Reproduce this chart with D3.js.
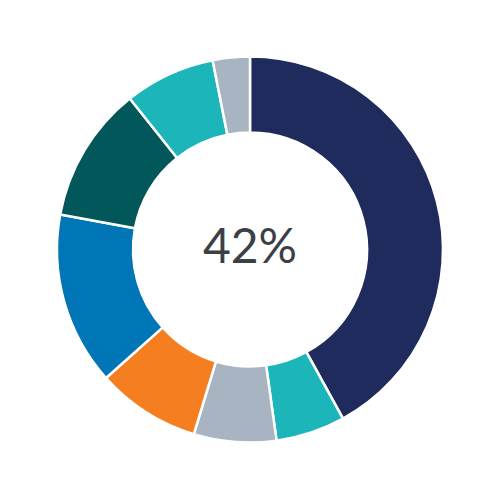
<!DOCTYPE html>
<html>
<head>
<meta charset="utf-8">
<script src="https://cdn.jsdelivr.net/npm/d3@7"></script>
<style>
html,body{margin:0;padding:0;background:#fff;}
svg{display:block;}
</style>
</head>
<body>
<svg id="chart" width="500" height="500"></svg>
<script>
const categories = ["A","B","C","D","E","F","G","H"];
const values = [42, 5.8, 6.9, 8.7, 14.5, 11.4, 7.6, 3.1];
const colors = ["#1e2b5c","#1cb5b9","#a9b4c2","#f47e20","#0076b6","#02575a","#1cb5b9","#a9b4c2"];
const centerLabel = "42%";

const svg = d3.select("#chart");
const cx = 250, cy = 249.5, outerR = 193, innerR = 117;
const g = svg.append("g").attr("transform", `translate(${cx},${cy})`);

const pie = d3.pie().value(d => d.v).sort(null);
const arc = d3.arc().innerRadius(innerR).outerRadius(outerR);
const data = categories.map((c, i) => ({c, v: values[i], col: colors[i]}));

g.selectAll("path").data(pie(data)).join("path")
  .attr("d", arc)
  .attr("fill", d => d.data.col)
  .attr("stroke", "#fff")
  .attr("stroke-width", 2.5);

g.append("text")
  .attr("text-anchor", "middle")
  .attr("y", 13.5)
  .attr("font-family", "Lato, sans-serif")
  .attr("font-size", 48)
  .attr("fill", "#3b4046")
  .text(centerLabel);
</script>
</body>
</html>
